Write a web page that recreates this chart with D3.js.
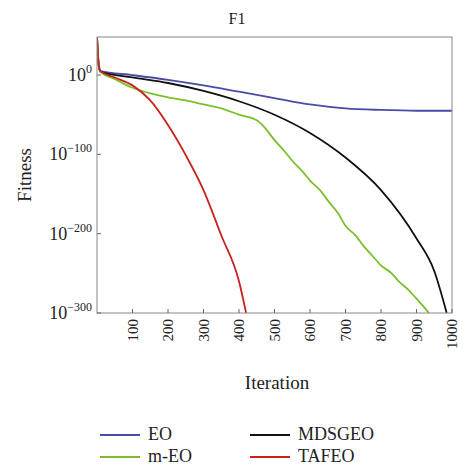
<!DOCTYPE html><html><head><script src="https://cdn.jsdelivr.net/npm/d3@7"></script>
<style>body{margin:0;background:#fff}text{font-family:"Liberation Serif","DejaVu Serif",serif;fill:#222}</style></head><body>
<svg id="c" width="474" height="466"></svg>
<script>
const xTicks=[100,200,300,400,500,600,700,800,900,1000];
const yTicks=[0,-100,-200,-300];
// values are log10 exponents
const eoX=[0,5,10,100,200,300,400,500,600,700,800,900,1000];
const eoY=[48,12,5,0,-6,-13,-21,-29,-37,-42,-44,-45,-45];
const mdX=[0,5,10,100,200,300,400,500,600,700,800,900,950,985];
const mdY=[48,12,4,-3,-10,-20,-33,-50,-73,-104,-145,-206,-247,-300];
const meX=[0,5,10,50,100,150,200,250,300,350,400,450,470,500,530,550,580,600,630,650,680,700,730,750,780,800,830,850,880,900,920,935];
const meY=[48,12,4,-5,-16,-23,-28,-32,-37,-42,-50,-57,-65,-82,-97,-108,-122,-133,-146,-158,-175,-190,-203,-215,-230,-240,-250,-260,-272,-282,-292,-300];
const taX=[0,5,10,50,100,150,200,250,300,350,400,420];
const taY=[48,12,5,-3,-13,-32,-63,-101,-145,-202,-260,-300];
const series=[{n:"EO",x:eoX,y:eoY,c:"#4a4aa8"},{n:"MDSGEO",x:mdX,y:mdY,c:"#111"},{n:"m-EO",x:meX,y:meY,c:"#7cbf2e"},{n:"TAFEO",x:taX,y:taY,c:"#c8221e"}];
const svg=d3.select("#c");
const L=97,R=452,T=37,B=313;
const x=d3.scaleLinear().domain([0,1000]).range([L,R]);
const y=d3.scaleLinear().domain([-300,48]).range([B,T]);
const defs=svg.append("defs");defs.append("clipPath").attr("id","cp").append("rect").attr("x",L).attr("y",T).attr("width",R-L).attr("height",B-T);
const g=svg.append("g").attr("clip-path","url(#cp)");
const line=d3.line().x(d=>x(d[0])).y(d=>y(d[1])).curve(d3.curveMonotoneX);
series.forEach(s=>g.append("path").attr("d",line(s.x.map((v,i)=>[v,s.y[i]]))).attr("fill","none").attr("stroke",s.c).attr("stroke-width",1.8));
svg.append("rect").attr("x",L).attr("y",T).attr("width",R-L).attr("height",B-T).attr("fill","none").attr("stroke","#888");
xTicks.forEach(t=>{svg.append("line").attr("x1",x(t)).attr("x2",x(t)).attr("y1",B).attr("y2",B-4).attr("stroke","#666");
svg.append("text").attr("transform",`translate(${x(t)+5},${B+6}) rotate(-90)`).attr("text-anchor","end").attr("font-size",15).text(t);});
yTicks.forEach(t=>{svg.append("line").attr("x1",L).attr("x2",L+4).attr("y1",y(t)).attr("y2",y(t)).attr("stroke","#666");
const tx=svg.append("text").attr("x",L-5).attr("y",y(t)+6).attr("text-anchor","end").attr("font-size",18);
tx.append("tspan").text("10");tx.append("tspan").attr("dy",-8).attr("font-size",12).text(t===0?"0":"\u2212"+(-t));});
svg.append("text").attr("x",237).attr("y",24).attr("text-anchor","middle").attr("font-size",16).text("F1");
svg.append("text").attr("transform","translate(31,175) rotate(-90)").attr("text-anchor","middle").attr("font-size",19).text("Fitness");
svg.append("text").attr("x",277).attr("y",389).attr("text-anchor","middle").attr("font-size",19).text("Iteration");
const leg=[["EO",100,440,"#4a4aa8"],["m-EO",100,462,"#7cbf2e"],["MDSGEO",250,440,"#111"],["TAFEO",250,462,"#c8221e"]];
leg.forEach(l=>{svg.append("line").attr("x1",l[1]).attr("x2",l[1]+40).attr("y1",l[2]-5).attr("y2",l[2]-5).attr("stroke",l[3]).attr("stroke-width",1.8);
svg.append("text").attr("x",l[1]+48).attr("y",l[2]).attr("font-size",18).text(l[0]);});
</script></body></html>
